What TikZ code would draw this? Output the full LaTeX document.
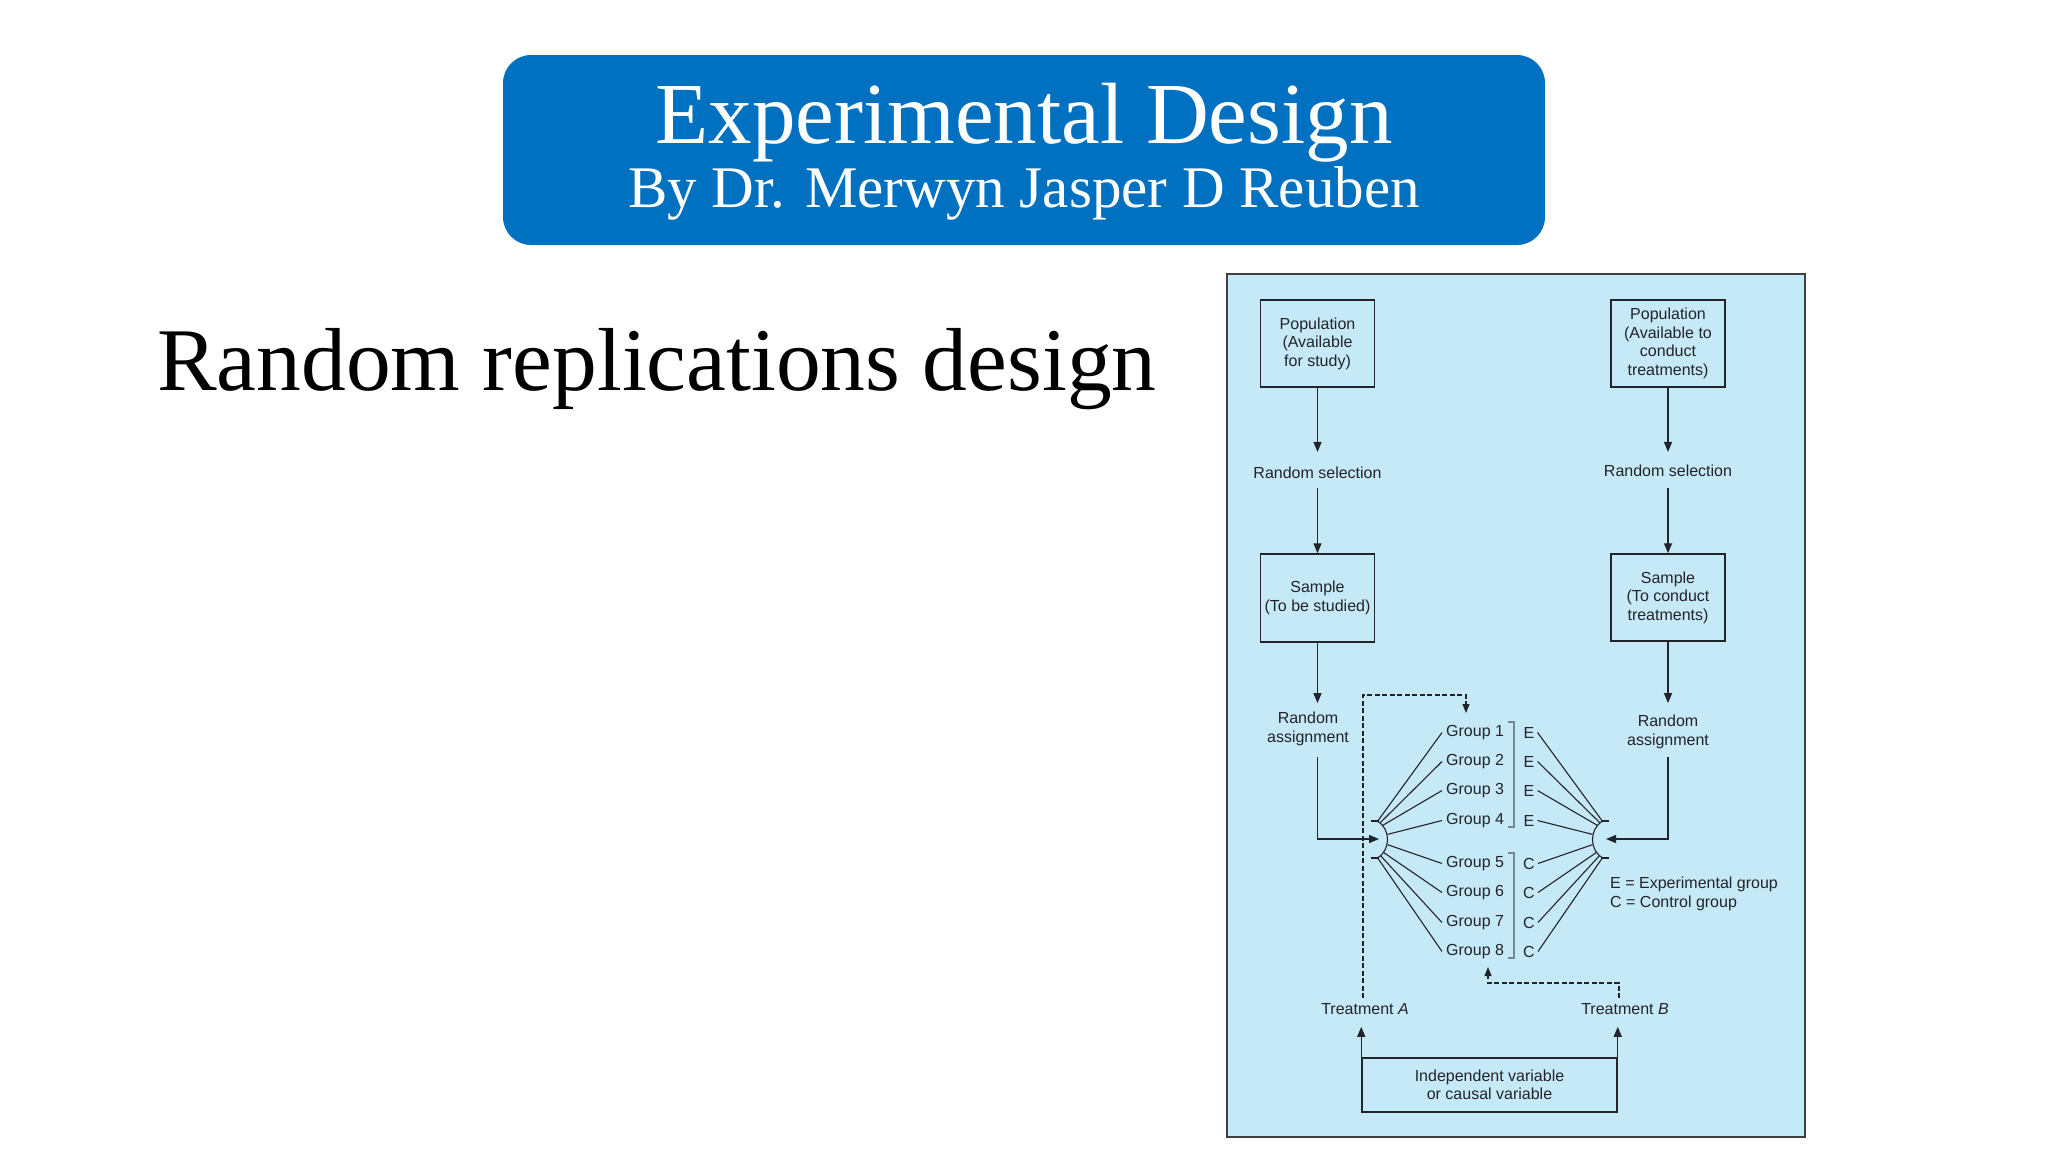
\documentclass[tikz,border=0pt]{standalone}
\usepackage{fontspec}
\setmainfont{Liberation Serif}
\newfontfamily\arialf{Liberation Sans}
\usetikzlibrary{arrows.meta}
\definecolor{titleblue}{RGB}{0,112,192}
\definecolor{panelblue}{RGB}{198,233,248}
\definecolor{panelborder}{RGB}{64,64,64}
\definecolor{ink}{RGB}{35,35,42}
\definecolor{brkc}{RGB}{120,135,150}
\begin{document}
\begin{tikzpicture}[x=1pt,y=-1pt,
  lbl/.style={font=\arialf\fontsize{16}{18.5}\selectfont, text=ink, align=center, inner sep=0pt},
  boxn/.style={lbl, draw=ink, line width=1.5pt, minimum width=114pt, minimum height=87pt},
  conn/.style={draw=ink, line width=1.4pt},
  arr/.style={conn, -{Triangle[length=10pt,width=8pt]}},
  dl/.style={draw=ink, line width=1.3pt, dash pattern=on 5pt off 2.5pt},
  darr/.style={dl, -{Triangle[length=9pt,width=7pt]}},
  fan/.style={draw=ink, line width=1.1pt},
  brk/.style={draw=brkc, line width=1.6pt}]
\useasboundingbox (0,0) rectangle (2048,1152);
\fill[white] (0,0) rectangle (2048,1152);

% title
\node[fill=titleblue, rounded corners=28pt, minimum width=1042pt, minimum height=190pt, inner sep=0pt] (ttlbox) at (1024,150) {};
\node[anchor=base, font=\fontsize{87}{90}\selectfont, text=white, inner sep=0pt] (ttl) at (1024,143) {Experimental Design};
\node[anchor=base, font=\fontsize{59}{62}\selectfont, text=white, inner sep=0pt] (sub) at (1024,207) {By Dr. Merwyn Jasper D Reuben};
\node[anchor=base west, font=\fontsize{89.5}{92}\selectfont, inner sep=0pt] (head) at (157,390) {Random replications design};

% panel
\draw[draw=panelborder, line width=2pt, fill=panelblue] (1227,274) rectangle (1805,1137);

% boxes and labels
\node[boxn] (lpop) at (1317.5,343.5) {Population\\(Available\\for study)};
\node[boxn] (rpop) at (1668,343.5) {Population\\(Available to\\conduct\\treatments)};
\node[lbl] (lrs) at (1317.5,473) {Random selection};
\node[lbl] (rrs) at (1668,471) {Random selection};
\node[boxn, minimum height=88pt] (lsam) at (1317.5,598) {Sample\\(To be studied)};
\node[boxn] (rsam) at (1668,597.5) {Sample\\(To conduct\\treatments)};
\node[lbl] (lra) at (1308,729) {Random\\assignment};
\node[lbl] (rra) at (1668,732) {Random\\assignment};

\draw[arr] (lpop.south) -- ([yshift=15pt]lrs.north);
\draw[arr] ([yshift=-9pt]lrs.south) -- (lsam.north);
\draw[arr] (rpop.south) -- ([yshift=13pt]rrs.north);
\draw[arr] ([yshift=-11pt]rrs.south) -- (rsam.north);
\draw[arr] (lsam.south) -- ([yshift=9pt]lsam.south |- lra.north);
\draw[arr] (rsam.south) -- ([yshift=12pt]rsam.south |- rra.north);

\coordinate (lhub) at (1379,839);
\coordinate (rhub) at (1606,839);
\draw[arr] ([yshift=-11pt]lra.south -| lsam.south) |- (lhub);
\draw[arr] ([yshift=-8pt]rra.south -| rsam.south) |- (rhub);

% groups
\foreach \i/\y/\t in {1/732.5/E,2/761.5/E,3/790.5/E,4/820.5/E,5/863.5/C,6/892.5/C,7/922.5/C,8/951.5/C}{
  \node[lbl, anchor=west] (g\i) at (1446,\y) {Group \i};
  \node[lbl] (l\i) at (1529,\y) {\t};
}
\draw[brk] (1508,722) -- (1514,722) -- (1514,827) -- (1508,827);
\draw[brk] (1508,853) -- (1514,853) -- (1514,958) -- (1508,958);

% hubs
\coordinate (lh1) at (1377.5,821.3);
\coordinate (lh2) at (1379.9,823.0);
\coordinate (lh3) at (1382.6,825.4);
\coordinate (lh4) at (1387.4,834.4);
\coordinate (lh5) at (1387.4,844.6);
\coordinate (lh6) at (1383.5,852.4);
\coordinate (lh7) at (1380.5,855.6);
\coordinate (lh8) at (1377.5,857.7);
\coordinate (rh1) at (1602.5,821.3);
\coordinate (rh2) at (1600.1,823.0);
\coordinate (rh3) at (1597.4,825.4);
\coordinate (rh4) at (1592.6,834.4);
\coordinate (rh5) at (1592.6,844.6);
\coordinate (rh6) at (1596.5,852.4);
\coordinate (rh7) at (1599.5,855.6);
\coordinate (rh8) at (1602.5,857.7);
\draw[fan] (1377,821) .. controls (1391,828) and (1391,851) .. (1377,858);
\draw[fan] (1603,821) .. controls (1589,828) and (1589,851) .. (1603,858);
\draw[fan] (1371,821) -- (1379,821);
\draw[fan] (1371,858) -- (1379,858);
\draw[fan] (1601,821) -- (1609,821);
\draw[fan] (1601,858) -- (1609,858);
\foreach \i in {1,...,8}{
  \draw[fan] (lh\i) -- ([xshift=-4pt]g\i.west);
  \draw[fan] ([xshift=3pt]l\i.east) -- (rh\i);
}

% legend
\node[lbl, anchor=west] (leg1) at (1610,884.5) {E = Experimental group};
\node[lbl, anchor=west] (leg2) at (1610,903.5) {C = Control group};

% treatments
\node[lbl] (ta) at (1365,1009) {Treatment \textit{A}};
\node[lbl] (tbn) at (1625,1009) {Treatment \textit{B}};
\coordinate (atip) at (1466,713);
\coordinate (btip) at (1488,967);
\draw[darr] ([yshift=5pt,xshift=-2pt]ta.north) |- (1466,695) -- (atip);
\draw[darr] ([yshift=5pt,xshift=-6pt]tbn.north) |- (1488,983) -- (btip);

\node[lbl, draw=ink, line width=1.5pt, minimum width=255pt, minimum height=54pt] (iv) at (1489.5,1085) {Independent variable\\or causal variable};
\draw[arr] (iv.north west) -- ([yshift=-12pt]iv.north west |- ta.south);
\draw[arr] (iv.north east) -- ([yshift=-12pt]iv.north east |- tbn.south);
\end{tikzpicture}
\end{document}
